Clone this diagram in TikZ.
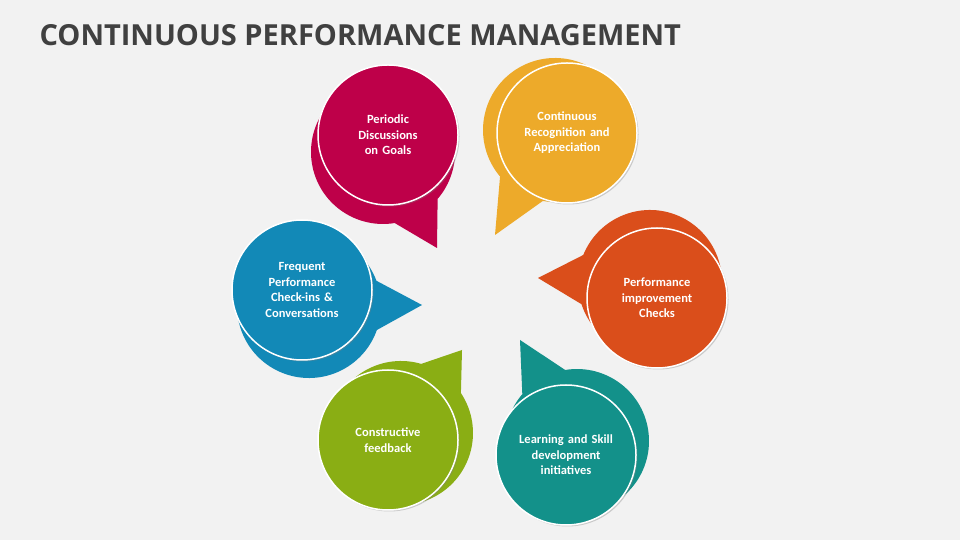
\documentclass[tikz,border=0pt]{standalone}
\usepackage{fontspec}
\setmainfont{Carlito}
\newfontfamily\titlefont{Open Sans}
\usetikzlibrary{calc,shadows}

\definecolor{cpmbg}{HTML}{F2F2F2}
\definecolor{cpmred}{HTML}{BE0049}
\definecolor{cpmyellow}{HTML}{EDAA2A}
\definecolor{cpmorange}{HTML}{DA4E1B}
\definecolor{cpmteal}{HTML}{13918A}
\definecolor{cpmgreen}{HTML}{8AAE14}
\definecolor{cpmblue}{HTML}{1289B7}

\tikzset{
	front/.style={circle, minimum size=140pt, inner sep=0pt, draw=white, line width=1.5pt,
		text=white, font=\bfseries\fontsize{12.5}{15.5}\selectfont, align=center, text width=110pt,
		drop shadow={shadow xshift=1.5pt, shadow yshift=-1.5pt, opacity=0.35}}
}

% bubble: name, colour, front centre, back centre, tail tip, text
\newcommand{\bubble}[6]{
	\coordinate (#1b) at #4;
	\coordinate (#1t) at #5;
	\fill[#2] let \p1=($(#1t)-(#1b)$), \n1={atan2(\y1,\x1)} in
		(#1t) -- ($(#1b)+(\n1+20:72)$) arc[start angle=\n1+20, end angle=\n1+340, radius=72] -- cycle;
	\node[front, fill=#2] (#1) at #3 {#6};
}

\begin{document}
\begin{tikzpicture}[x=1pt,y=1pt]
	\fill[cpmbg] (0,0) rectangle (960,540);
	\node[anchor=west, text=black!75, font=\titlefont\bfseries\fontsize{29}{32}\selectfont] (title) at (36,505) {CONTINUOUS PERFORMANCE MANAGEMENT};

	\bubble{goals}{cpmred}{(388,405)}{(383,388)}{(437,292)}{Periodic\\Discussions\\on Goals}
	\bubble{recog}{cpmyellow}{(567,407)}{(555,410)}{(495,305)}{Continuous\\Recognition and\\Appreciation}
	\bubble{checks}{cpmorange}{(657,242)}{(650,258)}{(538,262)}{Performance\\improvement\\Checks}
	\bubble{learn}{cpmteal}{(566,85)}{(577,99)}{(520,200)}{Learning and Skill\\development\\initiatives}
	\bubble{feedback}{cpmgreen}{(388,100)}{(401,107)}{(462,190)}{Constructive\\feedback}
	\bubble{checkins}{cpmblue}{(302,250)}{(309,234)}{(422,235)}{Frequent\\Performance\\Check-ins \&\\Conversations}
\end{tikzpicture}
\end{document}
